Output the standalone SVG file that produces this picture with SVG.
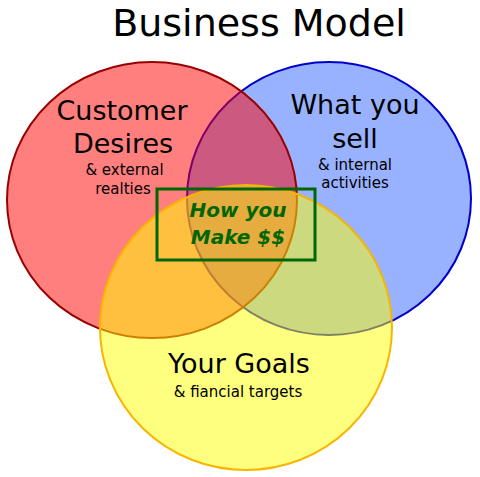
<svg xmlns="http://www.w3.org/2000/svg" width="480" height="477" viewBox="0 0 480 477">
<style>
text{font-family:"DejaVu Sans","Verdana",sans-serif;fill:#000;text-anchor:middle}
.big{font-size:27px}
.small{font-size:15px}
.title{font-size:38px}
.money{font-size:20px;font-weight:bold;font-style:italic;fill:#006600}
ellipse{stroke-width:2}
</style>
<rect width="480" height="477" fill="#fff"/>
<g id="blue">
<ellipse cx="329" cy="198.5" rx="142" ry="136.5" fill="#3366ff" fill-opacity="0.5" stroke="#0000cc"/>
</g>
<g id="red">
<ellipse cx="152" cy="200" rx="145" ry="138" fill="#ff0000" fill-opacity="0.5" stroke="#990000"/>
</g>
<g id="yellow">
<ellipse cx="246" cy="327.5" rx="146" ry="142.5" fill="#ffff00" fill-opacity="0.5" stroke="#f7b500"/>
</g>
<g id="title">
<text class="title" x="259" y="36">Business Model</text>
</g>
<g id="customer">
<text class="big" x="122" y="120">Customer</text>
<text class="big" x="123" y="153">Desires</text>
<text class="small" x="124.5" y="175">&amp; external</text>
<text class="small" x="123" y="194">realties</text>
</g>
<g id="sell">
<text class="big" x="355" y="114">What you</text>
<text class="big" x="355" y="148">sell</text>
<text class="small" x="355" y="170">&amp; internal</text>
<text class="small" x="355" y="188">activities</text>
</g>
<g id="goals">
<text class="big" x="239" y="373">Your Goals</text>
<text class="small" x="238" y="397">&amp; fiancial targets</text>
</g>
<g id="money">
<rect x="157" y="189" width="158" height="71" fill="none" stroke="#006600" stroke-width="3"/>
<text class="money" x="238" y="217">How you</text>
<text class="money" x="238" y="244">Make $$</text>
</g>
<g id="connectors"></g>
</svg>
